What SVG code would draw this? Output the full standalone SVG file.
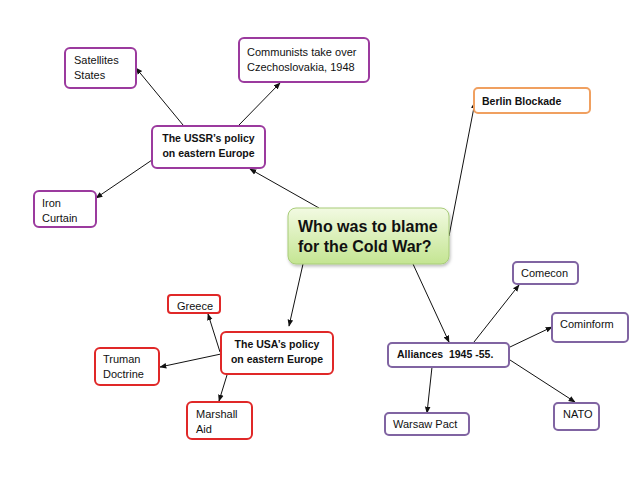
<svg xmlns="http://www.w3.org/2000/svg" width="638" height="479" viewBox="0 0 638 479">
<style>
.n{fill:#fff;stroke-width:2}
.p{stroke:#9B3A9E}
.r{stroke:#E02828}
.v{stroke:#8064A2}
.o{stroke:#F0A060}
text{font-family:"Liberation Sans",Arial,sans-serif;font-size:11px;fill:#111}
.b{font-weight:bold;font-size:10.5px}
.c{fill:none;stroke:#111;stroke-width:1;marker-end:url(#ah)}
</style>
<defs>
<marker id="ah" viewBox="0 0 10 10" refX="9" refY="5" markerWidth="7" markerHeight="7" markerUnits="userSpaceOnUse" orient="auto">
<path d="M0,1 L10,5 L0,9 z" fill="#111"/>
</marker>
<linearGradient id="g" x1="0" y1="0" x2="0" y2="1">
<stop offset="0" stop-color="#F2FAE2"/>
<stop offset="1" stop-color="#C4E592"/>
</linearGradient>
<filter id="sh" x="-10%" y="-10%" width="130%" height="140%">
<feDropShadow dx="1" dy="2" stdDeviation="1.5" flood-color="#000" flood-opacity="0.25"/>
</filter>
</defs>
<rect width="638" height="479" fill="#fff"/>
<g id="connectors">
<line class="c" x1="319" y1="208" x2="250" y2="169"/>
<line class="c" x1="183" y1="125" x2="136" y2="68"/>
<line class="c" x1="239" y1="125" x2="280" y2="83"/>
<line class="c" x1="152" y1="160" x2="96" y2="198"/>
<line class="c" x1="449" y1="236" x2="475" y2="102"/>
<line class="c" x1="303" y1="264" x2="289" y2="326"/>
<line class="c" x1="413" y1="264" x2="449" y2="342"/>
<line class="c" x1="220" y1="352" x2="208" y2="314"/>
<line class="c" x1="221" y1="354" x2="160" y2="367"/>
<line class="c" x1="227" y1="375" x2="219" y2="401"/>
<line class="c" x1="474" y1="342" x2="519" y2="285"/>
<line class="c" x1="510" y1="347" x2="552" y2="327"/>
<line class="c" x1="510" y1="360" x2="575" y2="402"/>
<line class="c" x1="432" y1="367" x2="427" y2="413"/>
</g>
<g id="central">
<rect x="288" y="208" width="161" height="56" rx="8" fill="url(#g)" stroke="#A8CC78" stroke-width="1" filter="url(#sh)"/>
<text class="b" x="298" y="232" style="font-size:16px">Who was to blame</text>
<text class="b" x="298" y="252" style="font-size:16px">for the Cold War?</text>
</g>
<g id="ussr">
<rect class="n p" x="152" y="126" width="113" height="42" rx="5"/>
<text class="b" x="208.5" y="142" text-anchor="middle">The USSR’s policy</text>
<text class="b" x="208.5" y="157" text-anchor="middle">on eastern Europe</text>
</g>
<g id="satellites">
<rect class="n p" x="65" y="48" width="71" height="40" rx="5"/>
<text x="74" y="64">Satellites</text>
<text x="74" y="79">States</text>
</g>
<g id="communists">
<rect class="n p" x="239" y="38" width="130" height="44" rx="5"/>
<text x="247" y="56">Communists take over</text>
<text x="247" y="71">Czechoslovakia, 1948</text>
</g>
<g id="iron">
<rect class="n p" x="34" y="191" width="62" height="36" rx="5"/>
<text x="42" y="207">Iron</text>
<text x="42" y="222">Curtain</text>
</g>
<g id="berlin">
<rect class="n o" x="474" y="88" width="116" height="25" rx="4"/>
<text class="b" x="482" y="105">Berlin Blockade</text>
</g>
<g id="usa">
<rect class="n r" x="221" y="332" width="112" height="42" rx="5"/>
<text class="b" x="277" y="348" text-anchor="middle">The USA’s policy</text>
<text class="b" x="277" y="363" text-anchor="middle">on eastern Europe</text>
</g>
<g id="greece">
<rect class="n r" x="168" y="295" width="52" height="18" rx="3"/>
<text x="177" y="310">Greece</text>
</g>
<g id="truman">
<rect class="n r" x="95" y="348" width="64" height="37" rx="5"/>
<text x="103" y="363">Truman</text>
<text x="103" y="378">Doctrine</text>
</g>
<g id="marshall">
<rect class="n r" x="187" y="402" width="65" height="37" rx="5"/>
<text x="196" y="418">Marshall</text>
<text x="196" y="433">Aid</text>
</g>
<g id="alliances">
<rect class="n v" x="388" y="343" width="121" height="24" rx="4"/>
<text class="b" x="397" y="358" style="white-space:pre">Alliances  1945 -55.</text>
</g>
<g id="comecon">
<rect class="n v" x="513" y="262" width="65" height="22" rx="4"/>
<text x="521" y="277">Comecon</text>
</g>
<g id="cominform">
<rect class="n v" x="552" y="313" width="76" height="29" rx="4"/>
<text x="560" y="328">Cominform</text>
</g>
<g id="nato">
<rect class="n v" x="554" y="403" width="45" height="27" rx="4"/>
<text x="563" y="418">NATO</text>
</g>
<g id="warsaw">
<rect class="n v" x="385" y="413" width="84" height="22" rx="4"/>
<text x="393" y="428">Warsaw Pact</text>
</g>
</svg>
